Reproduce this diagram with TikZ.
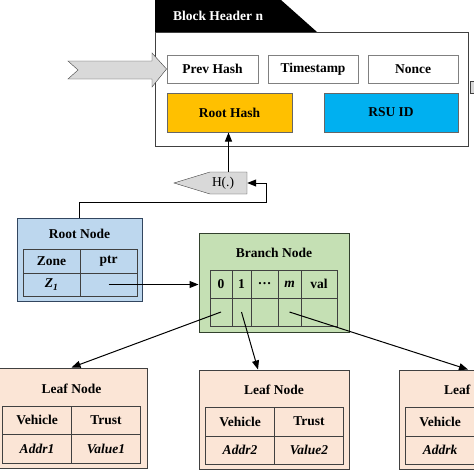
\documentclass[tikz,border=0pt]{standalone}
\usepackage{fontspec}
\setmainfont{Liberation Serif}
\definecolor{hashgold}{RGB}{255, 192, 0}
\definecolor{rsublue}{RGB}{0, 176, 240}
\definecolor{rootblue}{RGB}{189, 215, 238}
\definecolor{rootedge}{RGB}{50, 70, 95}
\definecolor{branchgreen}{RGB}{197, 224, 180}
\definecolor{branchedge}{RGB}{50, 65, 45}
\definecolor{leafpeach}{RGB}{251, 229, 214}
\definecolor{arrowgray}{RGB}{217, 217, 217}
\definecolor{edgedark}{RGB}{64, 64, 64}
\usetikzlibrary{arrows.meta, positioning, calc}
\tikzset{
  lbl/.style={font=\fontsize{13.5}{16}\selectfont\bfseries},
  field/.style={draw=gray, line width=1pt, fill=white, minimum width=#1, minimum height=28pt, inner sep=0pt, lbl},
  hashbox/.style={draw=edgedark!80, line width=1pt, minimum height=39pt, inner sep=0pt, lbl},
  cell/.style 2 args={draw=edgedark, line width=1pt, minimum width=#1, minimum height=#2, inner sep=0pt, lbl},
  arr/.style={-{Triangle[length=9pt,width=7pt]}, line width=1pt},
}

\begin{document}
\begin{tikzpicture}[x=1pt, y=-1pt]
  \useasboundingbox (0,0) rectangle (474,474);
  \clip (0,0) rectangle (474,474);

  % Block header
  \fill[black] (155,0) -- (281,0) -- (317,32) -- (155,32) -- cycle;
  \node[lbl, text=white] (hdrtitle) at (218,16) {Block Header n};
  \node[draw=edgedark, line width=1pt, fill=white, minimum width=313pt, minimum height=114pt, inner sep=0pt] (header) at (311.5,89) {};
  \node[field=91pt] (prevhash) at (212.5,69) {Prev Hash};
  \node[field=90pt] (timestamp) at (313,69) {Timestamp};
  \node[field=90pt] (nonce) at (413,69) {Nonce};
  \node[hashbox, fill=hashgold, minimum width=125pt] (roothash) at (229.5,112.5) {Root Hash};
  \node[hashbox, fill=rsublue, minimum width=134pt] (rsuid) at (391,112.5) {RSU ID};

  % Chain arrows
  \draw[draw=edgedark, fill=arrowgray] (68,61) -- (152,61) -- (152,53) -- (prevhash.west) -- (152,87) -- (152,79) -- (68,79) -- (78,70) -- cycle;
  \draw[draw=edgedark, fill=arrowgray] (480,81) -- (470,81) -- (470,93) -- (480,93);

  % Hash function
  \draw[draw=edgedark, fill=arrowgray] (247,172) -- (247,194) -- (210,194) -- (174,183) -- (210,172) -- cycle;
  \node[font=\fontsize{13.5}{16}\selectfont, text width=33pt, inner xsep=2pt, inner ysep=0pt, minimum height=22pt, align=left] (hfun) at (228.5,183) {H(.)};

  % Root node
  \node[draw=rootedge, line width=1pt, fill=rootblue, minimum width=125pt, minimum height=83pt, inner sep=0pt] (rootnode) at (79.5,259.5) {};
  \node[lbl] (roottitle) at (79.5,234) {Root Node};
  \node[cell={57pt}{24pt}] (rootzone) at (51.5,261) {Zone};
  \node[cell={57pt}{24pt}] (rootptrhead) at (108.5,261) {ptr};
  \node[cell={57pt}{23pt}] (rootz) at (51.5,284.5) {\itshape Z\textsubscript{1}};
  \node[cell={57pt}{23pt}] (rootptr) at (108.5,284.5) {};

  % Branch node
  \node[draw=branchedge, line width=1pt, fill=branchgreen, minimum width=150pt, minimum height=99pt, inner sep=0pt] (branch) at (274,282.5) {};
  \node[lbl] (branchtitle) at (274,253) {Branch Node};
  \node[cell={22pt}{28pt}] (b0) at (221,284) {0};
  \node[cell={19pt}{28pt}] (b1) at (241.5,284) {1};
  \node[cell={27pt}{28pt}] (bdots) at (264.5,284) {\ldots};
  \node[cell={23pt}{28pt}] (bm) at (289.5,284) {\itshape m};
  \node[cell={36pt}{28pt}] (bval) at (319,284) {val};
  \node[cell={22pt}{28pt}] (b0low) at (221,312) {};
  \node[cell={19pt}{28pt}] (b1low) at (241.5,312) {};
  \node[cell={27pt}{28pt}] (bdotslow) at (264.5,312) {};
  \node[cell={23pt}{28pt}] (bmlow) at (289.5,312) {};
  \node[cell={36pt}{28pt}] (bvallow) at (319,312) {};

  % Leaf nodes
  \node[draw=edgedark, line width=1pt, fill=leafpeach, minimum width=151pt, minimum height=100pt, inner sep=0pt] (leaf1) at (71.5,418) {};
  \node[lbl] (leaf1title) at (71.5,389) {Leaf Node};
  \node[cell={69pt}{28pt}] (leaf1veh) at (37,420) {Vehicle};
  \node[cell={69pt}{28pt}] (leaf1trust) at (106,420) {Trust};
  \node[cell={69pt}{29pt}] (leaf1addr) at (37,448.5) {\itshape Addr1};
  \node[cell={69pt}{29pt}] (leaf1val) at (106,448.5) {\itshape Value1};

  \node[draw=edgedark, line width=1pt, fill=leafpeach, minimum width=150pt, minimum height=99pt, inner sep=0pt] (leaf2) at (274,419.5) {};
  \node[lbl] (leaf2title) at (274,390) {Leaf Node};
  \node[cell={69pt}{29pt}] (leaf2veh) at (240,421.5) {Vehicle};
  \node[cell={69pt}{29pt}] (leaf2trust) at (309,421.5) {Trust};
  \node[cell={69pt}{28pt}] (leaf2addr) at (240,450) {\itshape Addr2};
  \node[cell={69pt}{28pt}] (leaf2val) at (309,450) {\itshape Value2};

  \node[draw=edgedark, line width=1pt, fill=leafpeach, minimum width=150pt, minimum height=99pt, inner sep=0pt] (leafk) at (474,419.5) {};
  \node[lbl] (leafktitle) at (474,390) {Leaf Node};
  \node[cell={69pt}{29pt}] (leafkveh) at (440,421.5) {Vehicle};
  \node[cell={69pt}{29pt}] (leafktrust) at (509,421.5) {};
  \node[cell={69pt}{28pt}] (leafkaddr) at (440,450) {\itshape Addrk};
  \node[cell={69pt}{28pt}] (leafkval) at (509,450) {};

  % Connectors
  \coordinate (hturn) at (266,202);
  \draw[arr] (hfun.north) -- (hfun.north |- roothash.south);
  \draw[arr] (rootnode.north) |- (hturn) |- (hfun.east);
  \draw[arr] (rootptr.center) -- (rootptr.center -| branch.west);
  \draw[arr] (b0low.center) -- (leaf1.north);
  \draw[arr] (b1low.center) -- ([xshift=-16pt]leaf2.north);
  \draw[arr] (bmlow.center) -- ([xshift=-6pt]leafk.north);
\end{tikzpicture}
\end{document}
